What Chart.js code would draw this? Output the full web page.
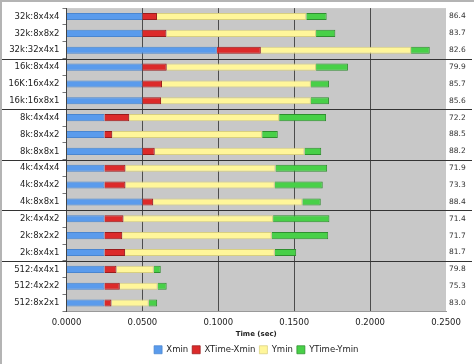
<!DOCTYPE html>
<html>
<head>
<meta charset="utf-8">
<script src="https://cdn.jsdelivr.net/npm/chart.js@4.4.1/dist/chart.umd.min.js"></script>
<style>
html,body{margin:0;padding:0;background:#ffffff;overflow:hidden;}
#wrap{width:474px;height:364px;position:relative;overflow:hidden;background:#ffffff;}
canvas{display:block;}
</style>
</head>
<body>
<div id="wrap"><canvas id="c" width="474" height="364"></canvas></div>
<script>
const categories = ["32k:8x4x4","32k:8x8x2","32k:32x4x1","16k:8x4x4","16K:16x4x2","16k:16x8x1","8k:4x4x4","8k:8x4x2","8k:8x8x1","4k:4x4x4","4k:8x4x2","4k:8x8x1","2k:4x4x2","2k:8x2x2","2k:8x4x1","512:4x4x1","512:4x2x2","512:8x2x1"];
const rightLabels = ["86.4","83.7","82.6","79.9","85.7","85.6","72.2","88.5","88.2","71.9","73.3","88.4","71.4","71.7","81.7","79.8","75.3","83.0"];
const xmin      = [0.0500,0.0500,0.0990,0.0500,0.0500,0.0500,0.0250,0.0250,0.0500,0.0250,0.0250,0.0500,0.0250,0.0250,0.0250,0.0250,0.0250,0.0250];
const xtimeXmin = [0.0096,0.0158,0.0290,0.0160,0.0129,0.0123,0.0163,0.0051,0.0081,0.0138,0.0138,0.0071,0.0125,0.0117,0.0136,0.0079,0.0101,0.0046];
const ymin      = [0.0984,0.0986,0.0990,0.0984,0.0981,0.0987,0.0988,0.0988,0.0987,0.0989,0.0984,0.0983,0.0986,0.0985,0.0986,0.0246,0.0250,0.0246];
const ytimeYmin = [0.0134,0.0127,0.0123,0.0210,0.0119,0.0119,0.0309,0.0103,0.0110,0.0340,0.0316,0.0121,0.0371,0.0372,0.0141,0.0046,0.0059,0.0055];
const seriesNames = ["Xmin","XTime-Xmin","Ymin","YTime-Ymin"];
const xTicks = [0,0.05,0.10,0.15,0.20,0.25];
const groupEnds = [2,5,8,11,14];

const FONT = "'DejaVu Sans', Verdana, sans-serif";

const deco = {
  id:'deco',
  beforeDraw(chart){
    const ctx = chart.ctx, a = chart.chartArea;
    ctx.save();
    ctx.fillStyle = '#ffffff';
    ctx.fillRect(0,0,chart.width,chart.height);
    ctx.fillStyle = '#c8c8c8';
    ctx.fillRect(a.left,a.top,a.right-a.left,a.bottom-a.top);
    ctx.fillStyle = '#b4b4b4';
    ctx.fillRect(0,0,chart.width,2);
    ctx.fillRect(0,0,2,chart.height);
    ctx.restore();
  },
  afterDraw(chart){
    const ctx = chart.ctx, y = chart.scales.y;
    ctx.save();
    ctx.strokeStyle = '#333';
    ctx.lineWidth = 1;
    groupEnds.forEach(i=>{
      const py = Math.round((y.getPixelForValue(i)+y.getPixelForValue(i+1))/2)+0.5;
      ctx.beginPath(); ctx.moveTo(2,py); ctx.lineTo(472,py); ctx.stroke();
    });
    ctx.restore();
  }
};

const colors = ['#5a9bec','#dc2a2a','#fff69a','#48d048'];
const borders = ['#4a86d0','#9a1c1c','#d8cf80','#2f8f2f'];
const dataArr = [xmin,xtimeXmin,ymin,ytimeYmin];

new Chart(document.getElementById('c'),{
  type:'bar',
  data:{
    labels:categories,
    datasets:dataArr.map((d,i)=>({
      label:seriesNames[i], data:d, backgroundColor:colors[i], borderColor:borders[i],
      borderWidth:{top:1,bottom:1,left:0,right:1}, borderSkipped:false, yAxisID:'y',
      barPercentage:0.42, categoryPercentage:1
    }))
  },
  options:{
    indexAxis:'y', responsive:false, animation:false, devicePixelRatio:1,
    layout:{padding:{top:6,right:0,bottom:0,left:0}},
    plugins:{
      legend:{position:'bottom', fullSize:false,
        labels:{boxWidth:8,boxHeight:8,padding:4,color:'#222',font:{family:FONT,size:8.5}}},
      tooltip:{enabled:false}
    },
    scales:{
      x:{type:'linear', stacked:true, min:0, max:0.25,
        afterBuildTicks(s){ s.ticks = xTicks.map(v=>({value:v})); },
        afterFit(s){ s.height = 30; },
        ticks:{callback:v=>Number(v).toFixed(4), color:'#222', padding:6, font:{family:FONT,size:8.5}, maxRotation:0},
        grid:{color:ctx=> (ctx.tick && (ctx.tick.value===0||ctx.tick.value===0.25)) ? 'rgba(0,0,0,0)' : '#4c4c4c', tickLength:0, drawTicks:false},
        border:{display:true,color:'#999'},
        title:{display:true,text:'Time (sec)',color:'#222',font:{family:FONT,size:7,weight:'bold'},padding:{top:1,bottom:3}}
      },
      y:{type:'category', stacked:true, offset:true, position:'left',
        afterFit(s){ s.width = 66.5; },
        ticks:{color:'#222', padding:3, font:{family:FONT,size:8.5}, autoSkip:false},
        grid:{offset:true, drawOnChartArea:false, tickLength:4, color:'#777'},
        border:{display:true,color:'#444'}
      },
      y2:{type:'category', labels:rightLabels, offset:true, position:'right',
        afterFit(s){ s.width = 28; },
        ticks:{color:'#333', padding:3, font:{family:FONT,size:7.5}, autoSkip:false},
        grid:{display:false, drawTicks:false},
        border:{display:false}
      }
    }
  },
  plugins:[deco]
});
</script>
</body>
</html>
